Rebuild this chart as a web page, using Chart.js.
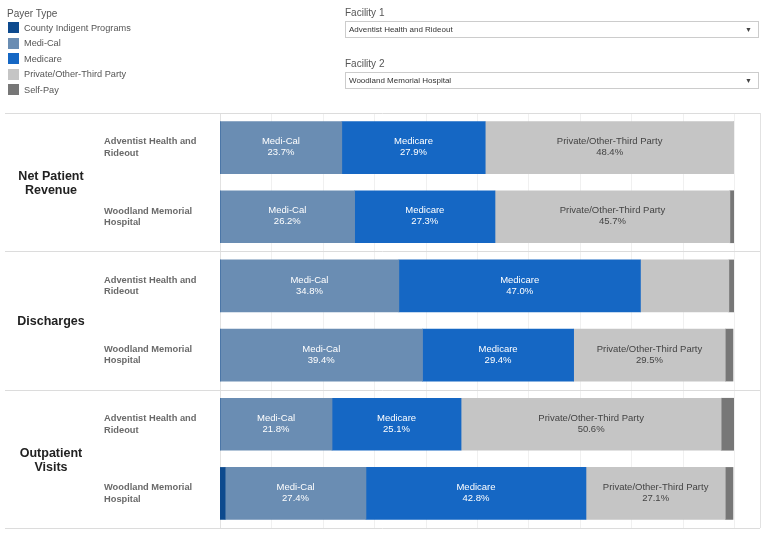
<!DOCTYPE html>
<html>
<head>
<meta charset="utf-8">
<script src="https://cdn.jsdelivr.net/npm/chart.js@4"></script>
<style>
  body { margin: 0; width: 768px; height: 536px; background: #fff; font-family: 'Liberation Sans', Arial, sans-serif; overflow: hidden; }
  #wrap { position: absolute; left: 0; top: 0; width: 768px; height: 536px; }
  .legend { position: absolute; left: 7px; top: 8px; font-size: 9.2px; color: #555; }
  .legend .title { font-size: 10px; margin-bottom: 1px; }
  .legend .item { height: 15.5px; display: flex; align-items: center; }
  .legend .sw { width: 11px; height: 11px; margin-right: 5px; margin-left: 1px; }
  .facility { position: absolute; left: 345px; width: 414px; font-size: 10px; color: #555; }
  .facility .box { margin-top: 3px; height: 15px; border: 1px solid #ccc; font-size: 8px; color: #333; line-height: 15px; padding-left: 3px; position: relative; }
  .facility .box span { position: absolute; right: 6px; top: 0; font-size: 7px; color: #444; }
</style>
</head>
<body>
<div id="wrap"><canvas id="myChart" width="768" height="536"></canvas></div>
<div class="legend" id="legend"><div class="title">Payer Type</div></div>
<div class="facility" style="top:7px">Facility 1<div class="box">Adventist Health and Rideout<span>&#9660;</span></div></div>
<div class="facility" style="top:58px">Facility 2<div class="box">Woodland Memorial Hospital<span>&#9660;</span></div></div>
<script>
// Filas: 3 métricas x 2 hospitales
const facilities = [
    ['Adventist Health and', 'Rideout'], ['Woodland Memorial', 'Hospital'],
    ['Adventist Health and', 'Rideout'], ['Woodland Memorial', 'Hospital'],
    ['Adventist Health and', 'Rideout'], ['Woodland Memorial', 'Hospital']
];
const groups = [['Net Patient', 'Revenue'], ['Discharges'], ['Outpatient', 'Visits']];
const payerTypes = ['County Indigent Programs', 'Medi-Cal', 'Medicare', 'Private/Other-Third Party', 'Self-Pay'];

const countyIndigent = [0, 0, 0, 0, 0, 1.0];
const mediCal = [23.7, 26.2, 34.8, 39.4, 21.8, 27.4];
const medicare = [27.9, 27.3, 47.0, 29.4, 25.1, 42.8];
const privateOther = [48.4, 45.7, 17.2, 29.5, 50.6, 27.1];
const selfPay = [0.2, 0.9, 1.0, 1.5, 2.5, 1.5];

const colors = ['#0d4a8e', '#6a8db3', '#1567c4', '#c5c5c5', '#777777'];
const labelColors = ['#fff', '#fff', '#fff', '#444', '#fff'];

// Leyenda HTML
const legendEl = document.getElementById('legend');
payerTypes.forEach((p, i) => {
    const d = document.createElement('div');
    d.className = 'item';
    d.innerHTML = '<div class="sw" style="background:' + colors[i] + '"></div>' + p;
    legendEl.appendChild(d);
});

const series = [countyIndigent, mediCal, medicare, privateOther, selfPay];

const sidePlugin = {
    id: 'side',
    beforeDraw(chart) {
        const c = chart.ctx, a = chart.chartArea;
        const yScale = chart.scales.y;
        c.save();
        // líneas verticales de la cuadrícula
        c.strokeStyle = '#f0f0f0';
        c.lineWidth = 1;
        for (let v = 10; v <= 100; v += 10) {
            const x = Math.round(chart.scales.x.getPixelForValue(v)) + 0.5;
            c.beginPath(); c.moveTo(x, a.top); c.lineTo(x, a.bottom); c.stroke();
        }
        c.strokeStyle = '#e2e2e2';
        c.beginPath(); c.moveTo(Math.round(a.left) + 0.5, a.top); c.lineTo(Math.round(a.left) + 0.5, a.bottom); c.stroke();
        c.beginPath(); c.moveTo(760.5, a.top); c.lineTo(760.5, a.bottom); c.stroke();
        // separadores horizontales
        c.strokeStyle = '#dcdcdc';
        const step = (a.bottom - a.top) / 3;
        for (let g = 0; g <= 3; g++) {
            const y = Math.round(a.top + g * step) + 0.5;
            c.beginPath(); c.moveTo(5, y); c.lineTo(760, y); c.stroke();
        }
        // etiquetas de grupo
        c.fillStyle = '#222';
        c.font = 'bold 12.5px "Liberation Sans", Arial';
        c.textAlign = 'center';
        c.textBaseline = 'middle';
        groups.forEach((lines, g) => {
            const yc = a.top + (g + 0.5) * step + 1.5;
            lines.forEach((t, k) => c.fillText(t, 51, yc + (k - (lines.length - 1) / 2) * 14));
        });
        // etiquetas de hospital
        c.fillStyle = '#6a6a6a';
        c.font = 'bold 9.3px "Liberation Sans", Arial';
        c.textAlign = 'left';
        facilities.forEach((lines, i) => {
            const yc = yScale.getPixelForValue(i);
            lines.forEach((t, k) => c.fillText(t, 104, yc + (k - 0.5) * 11.5));
        });
        c.restore();
    },
    afterDatasetsDraw(chart) {
        const c = chart.ctx;
        c.save();
        c.font = '9.5px "Liberation Sans", Arial';
        c.textAlign = 'center';
        c.textBaseline = 'middle';
        chart.data.datasets.forEach((ds, di) => {
            chart.getDatasetMeta(di).data.forEach((bar, i) => {
                const v = ds.data[i];
                if (v < 20) return;
                const xc = (bar.x + bar.base) / 2;
                c.fillStyle = labelColors[di];
                c.fillText(ds.label, xc, bar.y - 6);
                c.fillText(v.toFixed(1) + '%', xc, bar.y + 5);
            });
        });
        c.restore();
    }
};

const data = {
    labels: facilities.map(f => f.join(' ')),
    datasets: payerTypes.map((p, i) => ({
        label: p,
        data: series[i],
        backgroundColor: colors[i],
        borderWidth: 0,
        barThickness: 52
    }))
};

new Chart(document.getElementById('myChart'), {
    type: 'bar',
    data: data,
    options: {
        indexAxis: 'y',
        responsive: false,
        animation: false,
        layout: { padding: { left: 220, right: 34, top: 113, bottom: 8 } },
        plugins: { legend: { display: false }, tooltip: { enabled: false } },
        scales: {
            x: {
                stacked: true, min: 0, max: 100,
                ticks: { display: false },
                grid: { display: false, drawTicks: false },
                border: { display: false }
            },
            y: { stacked: true, display: false }
        }
    },
    plugins: [sidePlugin]
});
</script>
</body>
</html>
